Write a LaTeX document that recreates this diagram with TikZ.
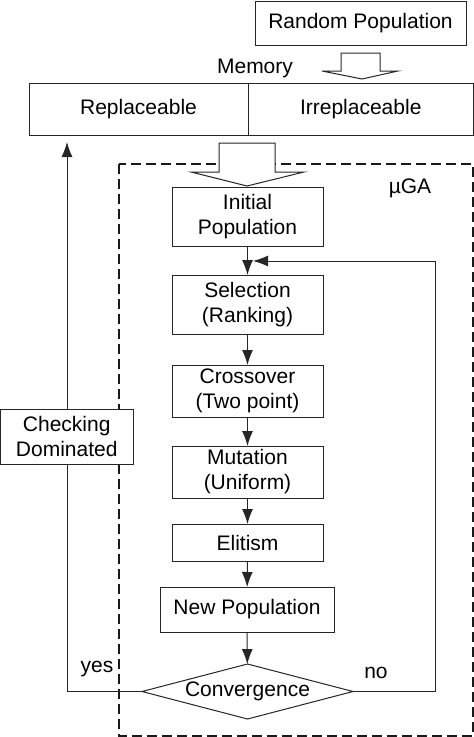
\documentclass[tikz,border=0pt]{standalone}
\usepackage{fontspec}
\setmainfont{Liberation Sans}
\usetikzlibrary{shapes.geometric,arrows.meta,calc}
\begin{document}
\begin{tikzpicture}[x=1pt,y=-1pt,
  font=\fontsize{21}{25}\selectfont,
  every node/.style={inner sep=0pt, outer sep=0pt, text=black},
  box/.style={draw=black!85, line width=1pt, align=center, fill=white},
  arr/.style={draw=black!85, line width=1pt, -{Latex[length=15pt,width=11pt]}},
  plain/.style={draw=black!85, line width=1pt},
  hollow/.style={draw=black!85, line width=1pt, fill=white},
  dashbox/.style={draw=black!90, line width=1.8pt, dash pattern=on 10pt off 5pt}
]
\useasboundingbox (0,0) rectangle (474,737);

% dashed muGA region
\draw[dashbox] (119,164) rectangle (473,736);
\node (mga) at (410,188) {µGA};

% top boxes
\node[box, minimum width=211pt, minimum height=44pt] (rand) at (360.5,23) {Random Population};
\node (mem) at (255,68) {Memory};
\node[box, minimum width=219pt, minimum height=52pt] (repl) at (138.5,109) {Replaceable};
\node[box, minimum width=225.5pt, minimum height=52pt] (irr) at (360.75,109) {Irreplaceable};

% hollow arrows
\draw[hollow] (341,53) -- (380,53) -- (380,71) -- (398,71) -- (362,79) -- (322,71) -- (341,71) -- cycle;
\draw[hollow] (219,143) -- (275,143) -- (275,172) -- (304,172) -- (247,186) -- (191,172) -- (219,172) -- cycle;

% flow boxes
\node[box, minimum width=151pt, minimum height=59pt] (init) at (247.5,216.5) {Initial\\Population};
\node[box, minimum width=151pt, minimum height=59pt] (sel) at (247.5,304.5) {Selection\\(Ranking)};
\node[box, minimum width=151pt, minimum height=52pt] (cross) at (247.5,391) {Crossover\\(Two point)};
\node[box, minimum width=151pt, minimum height=52pt] (mut) at (247.5,472) {Mutation\\(Uniform)};
\node[box, minimum width=151pt, minimum height=37pt] (elit) at (247.5,542.5) {Elitism};
\node[box, minimum width=174pt, minimum height=45pt] (newp) at (247,609.5) {New Population};
\node[draw=black!85, line width=1pt, fill=white, shape=diamond, aspect=3.84,
      minimum width=211pt, minimum height=55pt] (conv) at (247.5,691.5) {Convergence};

% connectors
\draw[arr] (init) -- (sel);
\draw[arr] (sel) -- (cross);
\draw[arr] (cross) -- (mut);
\draw[arr] (mut) -- (elit);
\draw[arr] (elit) -- (newp);
\draw[arr] (newp) -- (conv);

\coordinate (fbR) at (435,261);
\coordinate (fb) at (253,261);
\draw[arr] (conv.east) -| (fbR) -- (fb);

\coordinate (mtip) at (67,142);
\draw[arr] (conv.west) -| (mtip);

\node[box, minimum width=132.5pt, minimum height=55pt] (check) at (66.75,436.5) {Checking\\Dominated};

\node (yes) at (97,669) {yes};
\node (no) at (376,673) {no};
\end{tikzpicture}
\end{document}
